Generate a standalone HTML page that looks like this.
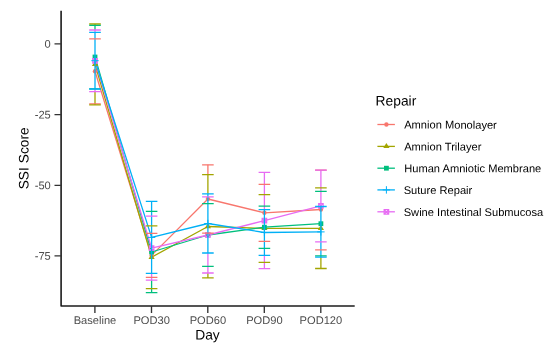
<!DOCTYPE html><html><head><meta charset="utf-8"><title>SSI Score by Day</title><style>html,body{margin:0;padding:0;background:#fff}svg{display:block}text{font-family:"Liberation Sans",Arial,sans-serif}</style></head><body>
<svg width="550" height="345" viewBox="0 0 550 345">
<rect width="550" height="345" fill="#fff"/>
<path d="M95.0 71.2 L151.6 255.4 L207.9 199.0 L264.4 212.8 L320.9 209.5" stroke="#F8766D" stroke-width="1.3" fill="none" stroke-linejoin="round"/>
<path d="M95.0 64.3 L151.6 257.2 L207.9 226.5 L264.4 228.4 L320.9 228.4" stroke="#A3A500" stroke-width="1.3" fill="none" stroke-linejoin="round"/>
<path d="M95.0 57.0 L151.6 252.0 L207.9 235.0 L264.4 227.2 L320.9 223.7" stroke="#00BF7D" stroke-width="1.3" fill="none" stroke-linejoin="round"/>
<path d="M95.0 60.8 L151.6 248.2 L207.9 235.0 L264.4 220.6 L320.9 205.8" stroke="#E76BF3" stroke-width="1.3" fill="none" stroke-linejoin="round"/>
<path d="M95.0 60.7 L151.6 237.4 L207.9 223.5 L264.4 232.5 L320.9 231.9" stroke="#00B0F6" stroke-width="1.3" fill="none" stroke-linejoin="round"/>
<circle cx="95.0" cy="71.2" r="2.2" fill="#F8766D"/>
<circle cx="151.6" cy="255.4" r="2.2" fill="#F8766D"/>
<circle cx="207.9" cy="199.0" r="2.2" fill="#F8766D"/>
<circle cx="264.4" cy="212.8" r="2.2" fill="#F8766D"/>
<circle cx="320.9" cy="209.5" r="2.2" fill="#F8766D"/>
<path d="M95.0 60.9L98.1 66.0L91.9 66.0Z" fill="#A3A500"/>
<path d="M151.6 253.79999999999998L154.7 258.9L148.5 258.9Z" fill="#A3A500"/>
<path d="M207.9 223.1L211.0 228.2L204.8 228.2Z" fill="#A3A500"/>
<path d="M264.4 225.0L267.5 230.1L261.29999999999995 230.1Z" fill="#A3A500"/>
<path d="M320.9 225.0L324.0 230.1L317.79999999999995 230.1Z" fill="#A3A500"/>
<rect x="92.6" y="54.6" width="4.8" height="4.8" fill="#00BF7D"/>
<rect x="149.2" y="249.6" width="4.8" height="4.8" fill="#00BF7D"/>
<rect x="205.5" y="232.6" width="4.8" height="4.8" fill="#00BF7D"/>
<rect x="262.0" y="224.79999999999998" width="4.8" height="4.8" fill="#00BF7D"/>
<rect x="318.5" y="221.29999999999998" width="4.8" height="4.8" fill="#00BF7D"/>
<path d="M92.7 58.5H97.3V63.099999999999994H92.7ZM92.7 58.5L97.3 63.099999999999994M92.7 63.099999999999994L97.3 58.5" stroke="#E76BF3" stroke-width="1.1" fill="none"/>
<path d="M149.29999999999998 245.89999999999998H153.9V250.5H149.29999999999998ZM149.29999999999998 245.89999999999998L153.9 250.5M149.29999999999998 250.5L153.9 245.89999999999998" stroke="#E76BF3" stroke-width="1.1" fill="none"/>
<path d="M205.6 232.7H210.20000000000002V237.3H205.6ZM205.6 232.7L210.20000000000002 237.3M205.6 237.3L210.20000000000002 232.7" stroke="#E76BF3" stroke-width="1.1" fill="none"/>
<path d="M262.09999999999997 218.29999999999998H266.7V222.9H262.09999999999997ZM262.09999999999997 218.29999999999998L266.7 222.9M262.09999999999997 222.9L266.7 218.29999999999998" stroke="#E76BF3" stroke-width="1.1" fill="none"/>
<path d="M318.59999999999997 203.5H323.2V208.10000000000002H318.59999999999997ZM318.59999999999997 203.5L323.2 208.10000000000002M318.59999999999997 208.10000000000002L323.2 203.5" stroke="#E76BF3" stroke-width="1.1" fill="none"/>
<path d="M91.3 60.7H98.7M95.0 57.0V64.4" stroke="#00B0F6" stroke-width="1.0" fill="none"/>
<path d="M147.9 237.4H155.29999999999998M151.6 233.70000000000002V241.1" stroke="#00B0F6" stroke-width="1.0" fill="none"/>
<path d="M204.20000000000002 223.5H211.6M207.9 219.8V227.2" stroke="#00B0F6" stroke-width="1.0" fill="none"/>
<path d="M260.7 232.5H268.09999999999997M264.4 228.8V236.2" stroke="#00B0F6" stroke-width="1.0" fill="none"/>
<path d="M317.2 231.9H324.59999999999997M320.9 228.20000000000002V235.6" stroke="#00B0F6" stroke-width="1.0" fill="none"/>
<path d="M95.0 24.0V25.4" stroke="#A3A500" stroke-width="1.3" fill="none"/>
<path d="M95.0 25.4V30.0" stroke="#00BF7D" stroke-width="1.3" fill="none"/>
<path d="M95.0 30.0V32.4" stroke="#E76BF3" stroke-width="1.3" fill="none"/>
<path d="M95.0 32.4V89.0" stroke="#00B0F6" stroke-width="1.3" fill="none"/>
<path d="M95.0 89.0V91.6" stroke="#E76BF3" stroke-width="1.3" fill="none"/>
<path d="M95.0 91.6V104.8" stroke="#A3A500" stroke-width="1.3" fill="none"/>
<path d="M151.6 201.4V273.4" stroke="#00B0F6" stroke-width="1.3" fill="none"/>
<path d="M151.6 273.4V280.2" stroke="#E76BF3" stroke-width="1.3" fill="none"/>
<path d="M151.6 280.2V292.6" stroke="#00BF7D" stroke-width="1.3" fill="none"/>
<path d="M207.9 164.8V174.7" stroke="#F8766D" stroke-width="1.3" fill="none"/>
<path d="M207.9 174.7V193.8" stroke="#A3A500" stroke-width="1.3" fill="none"/>
<path d="M207.9 193.8V253.0" stroke="#00B0F6" stroke-width="1.3" fill="none"/>
<path d="M207.9 253.0V273.0" stroke="#E76BF3" stroke-width="1.3" fill="none"/>
<path d="M207.9 273.0V277.9" stroke="#A3A500" stroke-width="1.3" fill="none"/>
<path d="M264.4 172.4V209.6" stroke="#E76BF3" stroke-width="1.3" fill="none"/>
<path d="M264.4 209.6V255.4" stroke="#00B0F6" stroke-width="1.3" fill="none"/>
<path d="M264.4 255.4V268.7" stroke="#E76BF3" stroke-width="1.3" fill="none"/>
<path d="M320.9 170.1V206.5" stroke="#E76BF3" stroke-width="1.3" fill="none"/>
<path d="M320.9 206.5V257.1" stroke="#00B0F6" stroke-width="1.3" fill="none"/>
<path d="M320.9 257.1V268.5" stroke="#A3A500" stroke-width="1.3" fill="none"/>
<path d="M89.2 38.8H100.8M89.2 103.8H100.8M145.79999999999998 233.4H157.4M145.79999999999998 277.4H157.4M202.1 164.8H213.70000000000002M202.1 233.2H213.70000000000002M258.59999999999997 184.3H270.2M258.59999999999997 241.3H270.2M315.09999999999997 170.1H326.7M315.09999999999997 249.9H326.7" stroke="#F8766D" stroke-width="1.3" fill="none"/>
<path d="M89.2 24.0H100.8M89.2 104.8H100.8M145.79999999999998 225.8H157.4M145.79999999999998 288.6H157.4M202.1 174.7H213.70000000000002M202.1 277.9H213.70000000000002M258.59999999999997 194.6H270.2M258.59999999999997 262.3H270.2M315.09999999999997 187.8H326.7M315.09999999999997 268.5H326.7" stroke="#A3A500" stroke-width="1.3" fill="none"/>
<path d="M89.2 25.4H100.8M89.2 88.8H100.8M145.79999999999998 211.4H157.4M145.79999999999998 292.6H157.4M202.1 203.6H213.70000000000002M202.1 266.3H213.70000000000002M258.59999999999997 206.1H270.2M258.59999999999997 248.4H270.2M315.09999999999997 191.4H326.7M315.09999999999997 255.9H326.7" stroke="#00BF7D" stroke-width="1.3" fill="none"/>
<path d="M89.2 30.0H100.8M89.2 91.6H100.8M145.79999999999998 216.2H157.4M145.79999999999998 280.2H157.4M202.1 196.8H213.70000000000002M202.1 273.0H213.70000000000002M258.59999999999997 172.4H270.2M258.59999999999997 268.7H270.2M315.09999999999997 170.1H326.7M315.09999999999997 241.9H326.7" stroke="#E76BF3" stroke-width="1.3" fill="none"/>
<path d="M89.2 32.4H100.8M89.2 89.0H100.8M145.79999999999998 201.4H157.4M145.79999999999998 273.4H157.4M202.1 193.8H213.70000000000002M202.1 253.0H213.70000000000002M258.59999999999997 209.6H270.2M258.59999999999997 255.4H270.2M315.09999999999997 206.5H326.7M315.09999999999997 257.1H326.7" stroke="#00B0F6" stroke-width="1.3" fill="none"/>
<path d="M61.1 10.8V305.95H354.7" stroke="#1c1c1c" stroke-width="1.6" fill="none" stroke-linejoin="round"/>
<path d="M54.5 43.9H61M54.5 114.6H61M54.5 185.3H61M54.5 255.9H61M94.9 305.9V312.9M151.5 305.9V312.9M207.8 305.9V312.9M264.29999999999995 305.9V312.9M320.79999999999995 305.9V312.9" stroke="#333" stroke-width="1.35" fill="none"/>
<text transform="translate(50.8 47.85) rotate(0.03)" font-size="11.12" fill="#4D4D4D" text-anchor="end">0</text>
<text transform="translate(50.8 118.55) rotate(0.03)" font-size="11.12" fill="#4D4D4D" text-anchor="end">-25</text>
<text transform="translate(50.8 189.25) rotate(0.03)" font-size="11.12" fill="#4D4D4D" text-anchor="end">-50</text>
<text transform="translate(50.8 259.85) rotate(0.03)" font-size="11.12" fill="#4D4D4D" text-anchor="end">-75</text>
<text transform="translate(95.0 324.0) rotate(0.03)" font-size="11.12" fill="#4D4D4D" text-anchor="middle">Baseline</text>
<text transform="translate(151.6 324.0) rotate(0.03)" font-size="11.12" fill="#4D4D4D" text-anchor="middle">POD30</text>
<text transform="translate(207.9 324.0) rotate(0.03)" font-size="11.12" fill="#4D4D4D" text-anchor="middle">POD60</text>
<text transform="translate(264.4 324.0) rotate(0.03)" font-size="11.12" fill="#4D4D4D" text-anchor="middle">POD90</text>
<text transform="translate(320.9 324.0) rotate(0.03)" font-size="11.12" fill="#4D4D4D" text-anchor="middle">POD120</text>
<text transform="translate(207.5 339.6) rotate(0.03)" font-size="13.8" fill="#000" text-anchor="middle">Day</text>
<text transform="translate(28.4 158.3) rotate(-90.03)" font-size="13.8" fill="#000" text-anchor="middle">SSI Score</text>
<text transform="translate(375.6 105.5) rotate(0.03)" font-size="13.8" fill="#000" text-anchor="start">Repair</text>
<path d="M377.4 124.5H394.9" stroke="#F8766D" stroke-width="1.3"/>
<circle cx="386.4" cy="124.5" r="2.2" fill="#F8766D"/>
<text transform="translate(404.2 128.6) rotate(0.03)" font-size="11.12" fill="#000" text-anchor="start">Amnion Monolayer</text>
<path d="M377.4 146.4H394.9" stroke="#A3A500" stroke-width="1.3"/>
<path d="M386.4 143.0L389.5 148.1L383.29999999999995 148.1Z" fill="#A3A500"/>
<text transform="translate(404.2 150.5) rotate(0.03)" font-size="11.12" fill="#000" text-anchor="start">Amnion Trilayer</text>
<path d="M377.4 168.2H394.9" stroke="#00BF7D" stroke-width="1.3"/>
<rect x="384.0" y="165.79999999999998" width="4.8" height="4.8" fill="#00BF7D"/>
<text transform="translate(404.2 172.3) rotate(0.03)" font-size="11.12" fill="#000" text-anchor="start">Human Amniotic Membrane</text>
<path d="M377.4 189.9H394.9" stroke="#00B0F6" stroke-width="1.3"/>
<path d="M382.7 189.9H390.09999999999997M386.4 186.20000000000002V193.6" stroke="#00B0F6" stroke-width="1.0" fill="none"/>
<text transform="translate(403.7 194.0) rotate(0.03)" font-size="11.12" fill="#000" text-anchor="start">Suture Repair</text>
<path d="M377.4 211.8H394.9" stroke="#E76BF3" stroke-width="1.3"/>
<path d="M384.09999999999997 209.5H388.7V214.10000000000002H384.09999999999997ZM384.09999999999997 209.5L388.7 214.10000000000002M384.09999999999997 214.10000000000002L388.7 209.5" stroke="#E76BF3" stroke-width="1.1" fill="none"/>
<text transform="translate(403.7 215.9) rotate(0.03)" font-size="11.12" fill="#000" text-anchor="start">Swine Intestinal Submucosa</text>
</svg></body></html>
